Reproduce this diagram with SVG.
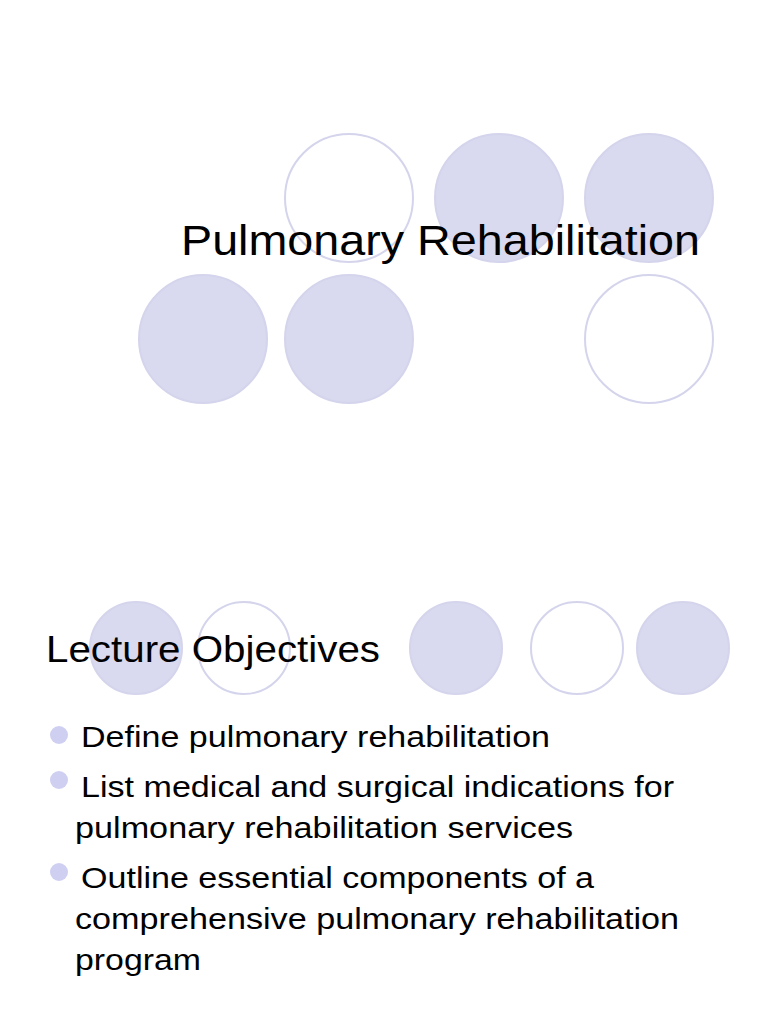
<svg xmlns="http://www.w3.org/2000/svg" width="768" height="1024" viewBox="0 0 768 1024">
<style>
.f{fill:#d9d9ef;stroke:#d4d4ec;stroke-width:2}
.o{fill:#fff;stroke:#d4d4ec;stroke-width:2}
.b{fill:#cfcff2}
text{font-family:"Liberation Sans",Arial,sans-serif;fill:#000}
.t{font-size:42px}
.h{font-size:36px}
.p{font-size:30px}
</style>
<rect width="768" height="1024" fill="#fff"/>
<g id="circles">
<circle class="o" cx="349" cy="198" r="64"/>
<circle class="f" cx="499" cy="198" r="64"/>
<circle class="f" cx="649" cy="198" r="64"/>
<circle class="f" cx="203" cy="339" r="64"/>
<circle class="f" cx="349" cy="339" r="64"/>
<circle class="o" cx="649" cy="339" r="64"/>
<circle class="f" cx="136" cy="648" r="46"/>
<circle class="o" cx="244" cy="648" r="46"/>
<circle class="f" cx="456" cy="648" r="46"/>
<circle class="o" cx="577" cy="648" r="46"/>
<circle class="f" cx="683" cy="648" r="46"/>
</g>
<text class="t" x="181" y="255" textLength="519" lengthAdjust="spacingAndGlyphs">Pulmonary Rehabilitation</text>
<text class="h" x="46" y="662" textLength="334" lengthAdjust="spacingAndGlyphs">Lecture Objectives</text>
<g id="bullets">
<circle class="b" cx="59" cy="735" r="9"/>
<circle class="b" cx="59" cy="780" r="9"/>
<circle class="b" cx="59" cy="872" r="9"/>
</g>
<text class="p" x="81" y="747" textLength="469" lengthAdjust="spacingAndGlyphs">Define pulmonary rehabilitation</text>
<text class="p" x="81" y="797" textLength="593" lengthAdjust="spacingAndGlyphs">List medical and surgical indications for</text>
<text class="p" x="75" y="838" textLength="498" lengthAdjust="spacingAndGlyphs">pulmonary rehabilitation services</text>
<text class="p" x="81" y="888" textLength="513" lengthAdjust="spacingAndGlyphs">Outline essential components of a</text>
<text class="p" x="75" y="929" textLength="604" lengthAdjust="spacingAndGlyphs">comprehensive pulmonary rehabilitation</text>
<text class="p" x="75" y="970" textLength="126" lengthAdjust="spacingAndGlyphs">program</text>
</svg>
